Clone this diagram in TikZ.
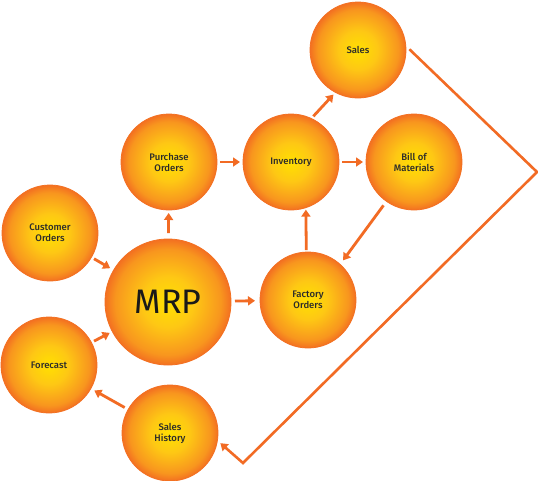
\documentclass[tikz,border=0pt]{standalone}
\usepackage{fontspec}
\setmainfont{Fira Sans}[BoldFont={Fira Sans Medium}]
\usetikzlibrary{arrows.meta}
\definecolor{ylw}{HTML}{FFE000}
\definecolor{ylw2}{HTML}{FEC814}
\definecolor{org}{HTML}{F8961E}
\definecolor{orgd}{HTML}{F37021}
\definecolor{arr}{HTML}{F26B24}
\definecolor{txt}{HTML}{2B2B2B}
\pgfdeclareradialshading{ball}{\pgfpoint{0bp}{0bp}}{color(0bp)=(ylw); color(10bp)=(ylw2); color(21bp)=(org); color(25bp)=(orgd); color(50bp)=(orgd)}
\begin{document}
\begin{tikzpicture}[x=1pt,y=-1pt,
  ballnode/.style={circle, minimum size=96pt, inner sep=0pt, outer sep=0pt,
    shading=ball, draw=orgd, line width=0.8pt, text=txt,
    font=\bfseries\fontsize{9.5}{11}\selectfont, align=center},
  bigball/.style={ballnode, minimum size=126pt, font=\fontsize{34}{36}\selectfont, text=black!90},
  flow/.style={draw=arr, line width=2.8pt, -{Triangle[length=7pt,width=9pt]}},
  loopline/.style={draw=arr, line width=2.6pt, line join=miter, -{Triangle[length=7pt,width=9pt]}}
]
\fill[white] (0,0) rectangle (538,480);
\useasboundingbox (0,0) rectangle (538,480);

\node[ballnode] (sales) at (358,50) {Sales};
\node[ballnode] (po) at (169,162) {Purchase\\Orders};
\node[ballnode] (inv) at (291,162) {Inventory};
\node[ballnode] (bom) at (414,162) {Bill of\\Materials};
\node[ballnode] (co) at (50,233) {Customer\\Orders};
\node[bigball] (mrp) at (168,302) {MRP};
\node[ballnode] (fo) at (308,300) {Factory\\Orders};
\node[ballnode] (fc) at (49,365) {Forecast};
\node[ballnode] (sh) at (170,433) {Sales\\History};

\coordinate (c1) at (537,172);
\coordinate (c2) at (243,463);

\draw[flow, shorten <=3pt, shorten >=3pt] (po) -- (inv);
\draw[flow, shorten <=3pt, shorten >=3pt] (inv) -- (bom);
\draw[flow, shorten <=6pt, shorten >=3pt] (mrp) -- (po);
\draw[flow, shorten <=4pt, shorten >=5pt] (mrp) -- (fo);
\draw[flow, shorten <=2pt, shorten >=2pt] (fo.92) -- (inv.-72);
\draw[flow, shorten <=5pt, shorten >=5pt] (bom.235) -- (fo.48);
\draw[flow, shorten <=3pt, shorten >=3pt] (inv.65) -- (sales.242);
\draw[flow, shorten <=3pt, shorten >=4pt] (co) -- (mrp);
\draw[flow, shorten <=3pt, shorten >=3pt] (fc) -- (mrp);
\draw[flow, shorten <=4pt, shorten >=4pt] (sh) -- (fc);
\draw[loopline, shorten <=5pt, shorten >=4pt] (sales.5) -- (c1) -- (c2) -- (sh.-9);
\end{tikzpicture}
\end{document}
